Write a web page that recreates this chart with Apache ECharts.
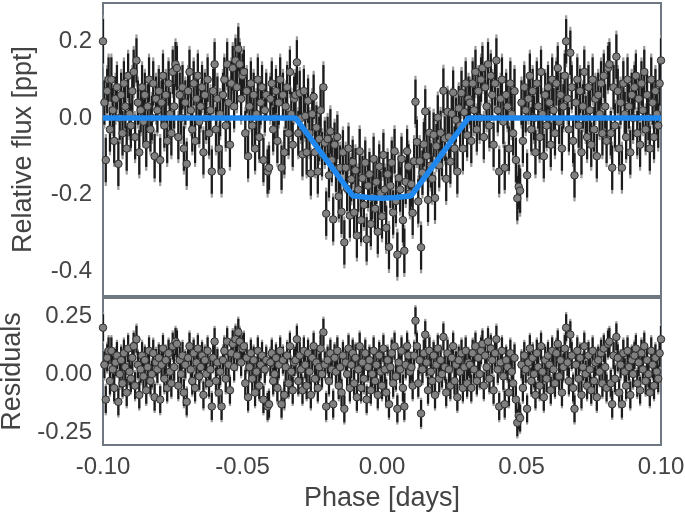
<!DOCTYPE html>
<html><head><meta charset="utf-8">
<script src="https://cdn.jsdelivr.net/npm/echarts@6/dist/echarts.min.js"></script>
<style>html,body{margin:0;padding:0;background:#fff}#c{width:685px;height:516px}</style>
</head><body><div id="c"></div>
<script>
const phase = [
-0.1000,-0.0995,-0.0990,-0.0985,-0.0980,-0.0975,-0.0970,-0.0965,-0.0960,-0.0955,-0.0950,-0.0945,-0.0940,-0.0935,-0.0930,-0.0925,-0.0920,-0.0915,-0.0910,-0.0905,
-0.0900,-0.0895,-0.0890,-0.0885,-0.0880,-0.0875,-0.0870,-0.0865,-0.0860,-0.0855,-0.0850,-0.0845,-0.0840,-0.0835,-0.0830,-0.0825,-0.0820,-0.0815,-0.0810,-0.0805,
-0.0800,-0.0795,-0.0790,-0.0785,-0.0780,-0.0775,-0.0770,-0.0765,-0.0760,-0.0755,-0.0750,-0.0745,-0.0740,-0.0735,-0.0730,-0.0725,-0.0720,-0.0715,-0.0710,-0.0705,
-0.0700,-0.0695,-0.0690,-0.0685,-0.0680,-0.0675,-0.0670,-0.0665,-0.0660,-0.0655,-0.0650,-0.0645,-0.0640,-0.0635,-0.0630,-0.0625,-0.0620,-0.0615,-0.0610,-0.0605,
-0.0600,-0.0595,-0.0590,-0.0585,-0.0580,-0.0575,-0.0570,-0.0565,-0.0560,-0.0555,-0.0550,-0.0545,-0.0540,-0.0535,-0.0530,-0.0525,-0.0520,-0.0515,-0.0510,-0.0505,
-0.0500,-0.0495,-0.0490,-0.0485,-0.0480,-0.0475,-0.0470,-0.0465,-0.0460,-0.0455,-0.0450,-0.0445,-0.0440,-0.0435,-0.0430,-0.0425,-0.0420,-0.0415,-0.0410,-0.0405,
-0.0400,-0.0395,-0.0390,-0.0385,-0.0380,-0.0375,-0.0370,-0.0365,-0.0360,-0.0355,-0.0350,-0.0345,-0.0340,-0.0335,-0.0330,-0.0325,-0.0320,-0.0315,-0.0310,-0.0305,
-0.0300,-0.0295,-0.0290,-0.0285,-0.0280,-0.0275,-0.0270,-0.0265,-0.0260,-0.0255,-0.0250,-0.0245,-0.0240,-0.0235,-0.0230,-0.0225,-0.0220,-0.0215,-0.0210,-0.0205,
-0.0200,-0.0195,-0.0190,-0.0185,-0.0180,-0.0175,-0.0170,-0.0165,-0.0160,-0.0155,-0.0150,-0.0145,-0.0140,-0.0135,-0.0130,-0.0125,-0.0120,-0.0115,-0.0110,-0.0105,
-0.0100,-0.0095,-0.0090,-0.0085,-0.0080,-0.0075,-0.0070,-0.0065,-0.0060,-0.0055,-0.0050,-0.0045,-0.0040,-0.0035,-0.0030,-0.0025,-0.0020,-0.0015,-0.0010,-0.0005,
0.0000,0.0005,0.0010,0.0015,0.0020,0.0025,0.0030,0.0035,0.0040,0.0045,0.0050,0.0055,0.0060,0.0065,0.0070,0.0075,0.0080,0.0085,0.0090,0.0095,
0.0100,0.0105,0.0110,0.0115,0.0120,0.0125,0.0130,0.0135,0.0140,0.0145,0.0150,0.0155,0.0160,0.0165,0.0170,0.0175,0.0180,0.0185,0.0190,0.0195,
0.0200,0.0205,0.0210,0.0215,0.0220,0.0225,0.0230,0.0235,0.0240,0.0245,0.0250,0.0255,0.0260,0.0265,0.0270,0.0275,0.0280,0.0285,0.0290,0.0295,
0.0300,0.0305,0.0310,0.0315,0.0320,0.0325,0.0330,0.0335,0.0340,0.0345,0.0350,0.0355,0.0360,0.0365,0.0370,0.0375,0.0380,0.0385,0.0390,0.0395,
0.0400,0.0405,0.0410,0.0415,0.0420,0.0425,0.0430,0.0435,0.0440,0.0445,0.0450,0.0455,0.0460,0.0465,0.0470,0.0475,0.0480,0.0485,0.0490,0.0495,
0.0500,0.0505,0.0510,0.0515,0.0520,0.0525,0.0530,0.0535,0.0540,0.0545,0.0550,0.0555,0.0560,0.0565,0.0570,0.0575,0.0580,0.0585,0.0590,0.0595,
0.0600,0.0605,0.0610,0.0615,0.0620,0.0625,0.0630,0.0635,0.0640,0.0645,0.0650,0.0655,0.0660,0.0665,0.0670,0.0675,0.0680,0.0685,0.0690,0.0695,
0.0700,0.0705,0.0710,0.0715,0.0720,0.0725,0.0730,0.0735,0.0740,0.0745,0.0750,0.0755,0.0760,0.0765,0.0770,0.0775,0.0780,0.0785,0.0790,0.0795,
0.0800,0.0805,0.0810,0.0815,0.0820,0.0825,0.0830,0.0835,0.0840,0.0845,0.0850,0.0855,0.0860,0.0865,0.0870,0.0875,0.0880,0.0885,0.0890,0.0895,
0.0900,0.0905,0.0910,0.0915,0.0920,0.0925,0.0930,0.0935,0.0940,0.0945,0.0950,0.0955,0.0960,0.0965,0.0970,0.0975,0.0980,0.0985,0.0990,0.0995,
0.1000
];
const flux = [
0.20,0.04,-0.11,0.07,0.10,-0.03,0.10,0.02,-0.06,0.05,0.08,-0.12,0.00,0.06,-0.04,0.09,0.03,-0.08,0.11,0.01,
-0.02,0.07,0.12,-0.05,0.15,0.04,-0.09,0.02,0.08,-0.01,0.06,-0.07,0.03,0.10,-0.03,0.00,0.09,-0.10,0.05,0.02,
0.07,-0.11,0.04,0.11,-0.02,0.06,-0.06,0.09,0.01,-0.04,0.12,0.03,0.14,0.13,-0.05,0.06,0.00,0.08,-0.08,0.04,
-0.12,0.07,0.12,0.02,-0.03,0.09,-0.06,0.05,0.11,-0.01,0.03,0.08,-0.09,0.06,0.00,0.10,-0.04,0.02,-0.14,0.07,
0.14,-0.03,0.05,-0.08,0.01,-0.14,0.06,0.10,-0.02,0.14,0.04,-0.07,0.09,0.13,0.03,0.15,0.08,0.18,0.14,0.05,
0.11,0.12,-0.04,0.07,-0.10,0.03,0.09,-0.02,0.06,-0.08,0.01,0.10,-0.05,0.04,0.08,-0.11,0.02,0.06,-0.14,-0.13,
0.05,0.09,-0.03,0.00,0.07,-0.06,0.04,0.10,-0.13,0.06,-0.09,0.03,0.08,-0.04,0.12,0.01,-0.07,0.05,0.06,0.145,
-0.04,0.065,0.00,-0.095,0.07,0.005,-0.09,0.045,-0.04,-0.145,0.01,0.055,-0.09,-0.025,-0.14,-0.055,0.02,-0.095,0.08,-0.065,
-0.25,-0.055,-0.15,-0.035,-0.11,-0.265,-0.07,-0.135,-0.05,-0.205,-0.13,-0.245,-0.09,-0.325,-0.13,-0.185,-0.08,-0.255,-0.16,-0.115,
-0.247,-0.137,-0.307,-0.187,-0.087,-0.267,-0.157,-0.227,-0.117,-0.317,-0.177,-0.147,-0.277,-0.207,-0.107,-0.237,-0.167,-0.297,-0.127,-0.197,
-0.257,-0.097,-0.187,-0.287,-0.147,-0.337,-0.177,-0.117,-0.247,-0.087,-0.217,-0.357,-0.157,-0.187,-0.107,-0.267,-0.347,-0.167,-0.087,-0.127,
-0.197,-0.173,-0.248,-0.113,0.042,-0.063,-0.218,-0.113,-0.338,-0.143,-0.069,0.017,-0.099,-0.214,-0.039,-0.124,-0.159,-0.044,-0.209,-0.074,
0.001,-0.124,-0.039,-0.094,0.071,-0.054,-0.159,0.016,-0.049,-0.114,0.011,0.066,-0.080,-0.005,-0.140,0.025,-0.020,0.065,-0.080,0.015,
0.09,-0.045,0.05,0.04,-0.06,0.09,0.02,0.12,-0.03,0.07,0.00,0.10,0.13,-0.05,0.08,0.03,0.14,-0.02,0.11,0.06,
-0.07,0.09,0.15,0.02,-0.14,0.05,0.10,-0.01,-0.13,0.06,0.03,-0.08,0.09,0.01,-0.04,0.07,-0.11,-0.21,-0.18,-0.19,
0.04,-0.06,0.08,0.02,-0.15,0.05,0.11,-0.03,0.07,0.00,-0.09,0.09,0.03,-0.05,0.12,0.01,-0.10,0.06,-0.02,0.08,
0.04,-0.07,0.10,0.02,-0.04,0.09,0.13,-0.01,0.06,-0.08,0.03,0.11,0.20,0.05,-0.03,0.17,0.08,-0.06,-0.15,0.04,
0.10,-0.02,0.07,-0.09,0.03,0.12,0.00,-0.05,0.08,0.02,-0.07,0.10,-0.03,0.05,-0.10,0.06,0.01,0.09,-0.04,0.11,
0.03,-0.06,0.13,0.14,-0.04,-0.13,0.08,-0.02,0.16,0.07,-0.08,0.04,-0.13,0.09,0.01,-0.05,0.10,0.03,-0.09,0.06,
0.00,0.08,0.11,-0.04,0.05,-0.07,0.09,0.02,0.12,-0.03,0.06,0.00,-0.08,0.10,0.04,-0.05,0.07,0.01,-0.02,0.09,
0.15
];
const resid = [
0.20,0.04,-0.11,0.07,0.10,-0.03,0.10,0.02,-0.06,0.05,0.08,-0.12,0.00,0.06,-0.04,0.09,0.03,-0.08,0.11,0.01,
-0.02,0.07,0.12,-0.05,0.15,0.04,-0.09,0.02,0.08,-0.01,0.06,-0.07,0.03,0.10,-0.03,0.00,0.09,-0.10,0.05,0.02,
0.07,-0.11,0.04,0.11,-0.02,0.06,-0.06,0.09,0.01,-0.04,0.12,0.03,0.14,0.13,-0.05,0.06,0.00,0.08,-0.08,0.04,
-0.12,0.07,0.12,0.02,-0.03,0.09,-0.06,0.05,0.11,-0.01,0.03,0.08,-0.09,0.06,0.00,0.10,-0.04,0.02,-0.14,0.07,
0.14,-0.03,0.05,-0.08,0.01,-0.14,0.06,0.10,-0.02,0.14,0.04,-0.07,0.09,0.13,0.03,0.15,0.08,0.18,0.14,0.05,
0.11,0.12,-0.04,0.07,-0.10,0.03,0.09,-0.02,0.06,-0.08,0.01,0.10,-0.05,0.04,0.08,-0.11,0.02,0.06,-0.14,-0.13,
0.05,0.09,-0.03,0.00,0.07,-0.06,0.04,0.10,-0.13,0.06,-0.09,0.03,0.08,-0.04,0.12,0.01,-0.07,0.05,0.06,0.15,
-0.03,0.08,0.02,-0.07,0.10,0.04,-0.05,0.09,0.01,-0.09,0.07,0.12,-0.02,0.05,-0.06,0.03,0.11,0.00,0.18,0.04,
-0.14,0.06,-0.03,0.09,0.02,-0.13,0.07,0.01,0.10,-0.05,0.03,-0.08,0.08,-0.15,0.05,0.00,0.11,-0.06,0.04,0.09,
-0.04,0.07,-0.10,0.02,0.12,-0.06,0.05,-0.02,0.09,-0.11,0.03,0.06,-0.07,0.00,0.10,-0.03,0.04,-0.09,0.08,0.01,
-0.05,0.11,0.02,-0.08,0.06,-0.13,0.03,0.09,-0.04,0.12,-0.01,-0.15,0.05,0.02,0.10,-0.06,-0.14,0.04,0.12,0.08,
0.01,0.03,-0.05,0.08,0.23,0.12,-0.04,0.06,-0.17,0.02,0.09,0.17,0.05,-0.07,0.10,0.01,-0.03,0.08,-0.09,0.04,
0.11,-0.02,0.06,0.00,0.16,0.03,-0.08,0.09,0.02,-0.05,0.07,0.12,-0.03,0.04,-0.10,0.06,0.01,0.09,-0.06,0.03,
0.10,-0.04,0.05,0.04,-0.06,0.09,0.02,0.12,-0.03,0.07,0.00,0.10,0.13,-0.05,0.08,0.03,0.14,-0.02,0.11,0.06,
-0.07,0.09,0.15,0.02,-0.14,0.05,0.10,-0.01,-0.13,0.06,0.03,-0.08,0.09,0.01,-0.04,0.07,-0.11,-0.21,-0.18,-0.19,
0.04,-0.06,0.08,0.02,-0.15,0.05,0.11,-0.03,0.07,0.00,-0.09,0.09,0.03,-0.05,0.12,0.01,-0.10,0.06,-0.02,0.08,
0.04,-0.07,0.10,0.02,-0.04,0.09,0.13,-0.01,0.06,-0.08,0.03,0.11,0.20,0.05,-0.03,0.17,0.08,-0.06,-0.15,0.04,
0.10,-0.02,0.07,-0.09,0.03,0.12,0.00,-0.05,0.08,0.02,-0.07,0.10,-0.03,0.05,-0.10,0.06,0.01,0.09,-0.04,0.11,
0.03,-0.06,0.13,0.14,-0.04,-0.13,0.08,-0.02,0.16,0.07,-0.08,0.04,-0.13,0.09,0.01,-0.05,0.10,0.03,-0.09,0.06,
0.00,0.08,0.11,-0.04,0.05,-0.07,0.09,0.02,0.12,-0.03,0.06,0.00,-0.08,0.10,0.04,-0.05,0.07,0.01,-0.02,0.09,
0.15
];
const modelPhase = [-0.1,-0.031,-0.0105,-0.005,0,0.005,0.0105,0.031,0.1];
const modelFlux  = [0,0,-0.203,-0.208,-0.21,-0.208,-0.203,0,0];
const fluxErr = 0.058;
const fluxTicks = [-0.4,-0.2,0.0,0.2];
const residTicks = [-0.25,0.0,0.25];

const FONT = 'Liberation Sans, Arial, sans-serif';
const TXT = '#444444';

function errRender(extra, color, width) {
  return function (params, api) {
    const x = api.value(0), y = api.value(1);
    const a = api.coord([x, y + fluxErr + extra]);
    const b = api.coord([x, y - fluxErr - extra]);
    return { type: 'line', shape: { x1: a[0], y1: a[1], x2: b[0], y2: b[1] },
             style: { stroke: color, lineWidth: width } };
  };
}
const fluxPts = phase.map((p, i) => [p, flux[i]]);
const residPts = phase.map((p, i) => [p, resid[i]]);
const modelPts = modelPhase.map((p, i) => [p, modelFlux[i]]);

const chart = echarts.init(document.getElementById('c'), null, { renderer: 'canvas' });
const gridCommon = { left: 103, right: 24, show: true, borderColor: '#6f7780', borderWidth: 2,
                     backgroundColor: '#fff', containLabel: false, outerBoundsMode: 'none' };
chart.setOption({
  animation: false,
  textStyle: { fontFamily: FONT },
  grid: [
    Object.assign({ top: 3, height: 293 }, gridCommon),
    Object.assign({ top: 298, height: 147 }, gridCommon)
  ],
  xAxis: [
    { gridIndex: 0, type: 'value', min: -0.1, max: 0.1, interval: 0.05,
      axisLine: { show: false }, axisTick: { show: false }, axisLabel: { show: false }, splitLine: { show: false } },
    { gridIndex: 1, type: 'value', min: -0.1, max: 0.1, interval: 0.05,
      axisLine: { show: false }, axisTick: { show: false }, splitLine: { show: false },
      axisLabel: { fontSize: 24, color: TXT, fontFamily: FONT, margin: 10, formatter: v => v.toFixed(2),
                   showMinLabel: true, showMaxLabel: true, hideOverlap: false },
      name: 'Phase [days]', nameLocation: 'middle', nameGap: 40,
      nameTextStyle: { fontSize: 27, color: TXT, fontFamily: FONT } }
  ],
  yAxis: [
    { gridIndex: 0, type: 'value', min: -0.465, max: 0.30,
      axisLine: { show: false }, axisTick: { show: false }, splitLine: { show: false },
      axisLabel: { customValues: fluxTicks, fontSize: 24, color: TXT, fontFamily: FONT, margin: 11,
                   formatter: v => v.toFixed(1) },
      name: 'Relative flux [ppt]', nameLocation: 'middle', nameGap: 66, nameRotate: 90,
      nameTextStyle: { fontSize: 27, color: TXT, fontFamily: FONT } },
    { gridIndex: 1, type: 'value', min: -0.306, max: 0.328,
      axisLine: { show: false }, axisTick: { show: false }, splitLine: { show: false },
      axisLabel: { customValues: residTicks, fontSize: 24, color: TXT, fontFamily: FONT, margin: 11,
                   formatter: v => v.toFixed(2) },
      name: 'Residuals', nameLocation: 'middle', nameGap: 66, nameRotate: 90,
      nameTextStyle: { fontSize: 27, color: TXT, fontFamily: FONT } }
  ],
  series: [
    { type: 'custom', xAxisIndex: 0, yAxisIndex: 0, data: fluxPts, clip: true, renderItem: errRender(0.01, '#9a9a9a', 2.2), z: 1 },
    { type: 'custom', xAxisIndex: 0, yAxisIndex: 0, data: fluxPts, clip: true, renderItem: errRender(0, '#1c1c1c', 2.2), z: 2 },
    { type: 'scatter', xAxisIndex: 0, yAxisIndex: 0, data: fluxPts, symbolSize: 7.5, z: 3,
      itemStyle: { color: '#808080', borderColor: '#2e2e2e', borderWidth: 1, opacity: 1 } },
    { type: 'line', xAxisIndex: 0, yAxisIndex: 0, data: modelPts, showSymbol: false, symbol: 'none', z: 4,
      lineStyle: { color: '#1e88ee', width: 5.5 } },
    { type: 'custom', xAxisIndex: 1, yAxisIndex: 1, data: residPts, clip: true, renderItem: errRender(0.01, '#9a9a9a', 2.2), z: 1 },
    { type: 'custom', xAxisIndex: 1, yAxisIndex: 1, data: residPts, clip: true, renderItem: errRender(0, '#1c1c1c', 2.2), z: 2 },
    { type: 'scatter', xAxisIndex: 1, yAxisIndex: 1, data: residPts, symbolSize: 7.5, z: 3,
      itemStyle: { color: '#808080', borderColor: '#2e2e2e', borderWidth: 1, opacity: 1 } }
  ]
});
</script>
</body></html>
